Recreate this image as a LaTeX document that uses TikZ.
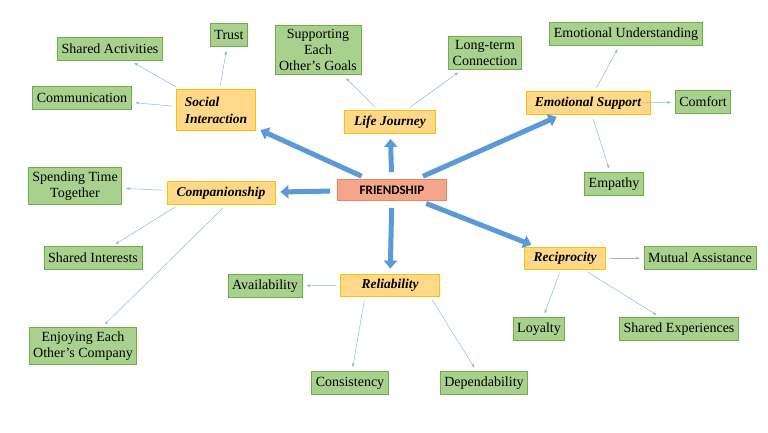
\documentclass[tikz,border=0pt]{standalone}
\usepackage{fontspec}
\setmainfont{Liberation Serif}
\newfontfamily\carl{Carlito}
\usetikzlibrary{arrows.meta}
\definecolor{gfill}{HTML}{A9D18E}
\definecolor{gdraw}{HTML}{70AD47}
\definecolor{ofill}{HTML}{FFD88A}
\definecolor{odraw}{HTML}{FFC000}
\definecolor{sfill}{HTML}{F4A58A}
\definecolor{sdraw}{HTML}{E8855A}
\definecolor{ablue}{HTML}{5B9BD5}
\begin{document}
\begin{tikzpicture}[x=1pt,y=-1pt,
 leaf/.style={draw=gdraw,fill=gfill,line width=0.8pt,font=\fontsize{14}{16}\selectfont,align=center,inner sep=4pt,minimum height=23pt},
 cat/.style={draw=odraw,fill=ofill,line width=0.8pt,font=\fontsize{13.5}{17}\selectfont\bfseries\itshape,align=left,inner sep=3pt},
 thin/.style={draw=ablue!70,line width=0.5pt,-{Stealth[length=4pt,width=3pt]},shorten >=4pt,shorten <=4pt},
 fat/.style={draw=ablue,line width=5pt,-{Triangle[length=8pt,width=13pt]},shorten >=5pt,shorten <=7pt}]
\useasboundingbox (0,0) rectangle (768,433);
\node[draw=sdraw,fill=sfill,line width=0.8pt,minimum width=109pt,minimum height=21pt,font=\carl\bfseries\fontsize{13}{15}\selectfont] (f) at (392,190) {FRIENDSHIP};
\node[cat,minimum width=79pt,minimum height=41pt] (si) at (216,110) {Social\\Interaction};
\node[cat,minimum width=91pt,minimum height=23pt] (lj) at (390,122) {Life Journey};
\node[cat,minimum width=124pt,minimum height=23pt] (es) at (588,103) {Emotional Support};
\node[cat,minimum width=108pt,minimum height=23pt] (co) at (221,193) {Companionship};
\node[cat,minimum width=99pt,minimum height=22pt] (re) at (390,285) {Reliability};
\node[cat,minimum width=81pt,minimum height=22pt] (rc) at (565,258) {Reciprocity};
\node[leaf] (tr) at (229,35) {Trust};
\node[leaf] (sa) at (110,49) {Shared Activities};
\node[leaf] (cm) at (82,98) {Communication};
\node[leaf] (sg) at (318,50) {Supporting\\Each\\Other's Goals};
\node[leaf] (lc) at (485,53) {Long-term\\Connection};
\node[leaf] (eu) at (626,34) {Emotional Understanding};
\node[leaf] (cf) at (703,102) {Comfort};
\node[leaf] (em) at (614,184) {Empathy};
\node[leaf] (st) at (75,186) {Spending Time\\Together};
\node[leaf] (sh) at (93,258) {Shared Interests};
\node[leaf] (en) at (83,346) {Enjoying Each\\Other's Company};
\node[leaf] (av) at (265,286) {Availability};
\node[leaf] (cs) at (350,383) {Consistency};
\node[leaf] (dp) at (484,383) {Dependability};
\node[leaf] (ma) at (700,258) {Mutual Assistance};
\node[leaf] (ly) at (539,329) {Loyalty};
\node[leaf] (se) at (679,329) {Shared Experiences};
\draw[fat] (f) -- (si);
\draw[fat] (f) -- (lj);
\draw[fat] (f) -- (es);
\draw[fat] (f) -- (co);
\draw[fat] (f) -- (re);
\draw[fat] (f) -- (rc);
\draw[thin] (si) -- (tr);
\draw[thin] (si) -- (sa);
\draw[thin] (si) -- (cm);
\draw[thin] (lj) -- (sg);
\draw[thin] (lj) -- (lc);
\draw[thin] (es) -- (eu);
\draw[thin] (es.center) ++(40,0) coordinate (esr) (esr) -- (cf);
\draw[thin] (es) -- (em);
\draw[thin] (co) -- (st);
\draw[thin] (co.south west) ++(12,0) coordinate (c1) (c1) -- (sh);
\draw[thin] (co.south) ++(5,0) coordinate (c2) (c2) -- (en);
\draw[thin] (re) -- (av);
\draw[thin] (re.south) ++(-25,0) coordinate (r1) (r1) -- (cs);
\draw[thin] (re.south) ++(40,0) coordinate (r2) (r2) -- (dp);
\draw[thin] (rc) -- (ma);
\draw[thin] (rc) -- (ly);
\draw[thin] (rc) -- (se);
\end{tikzpicture}
\end{document}
